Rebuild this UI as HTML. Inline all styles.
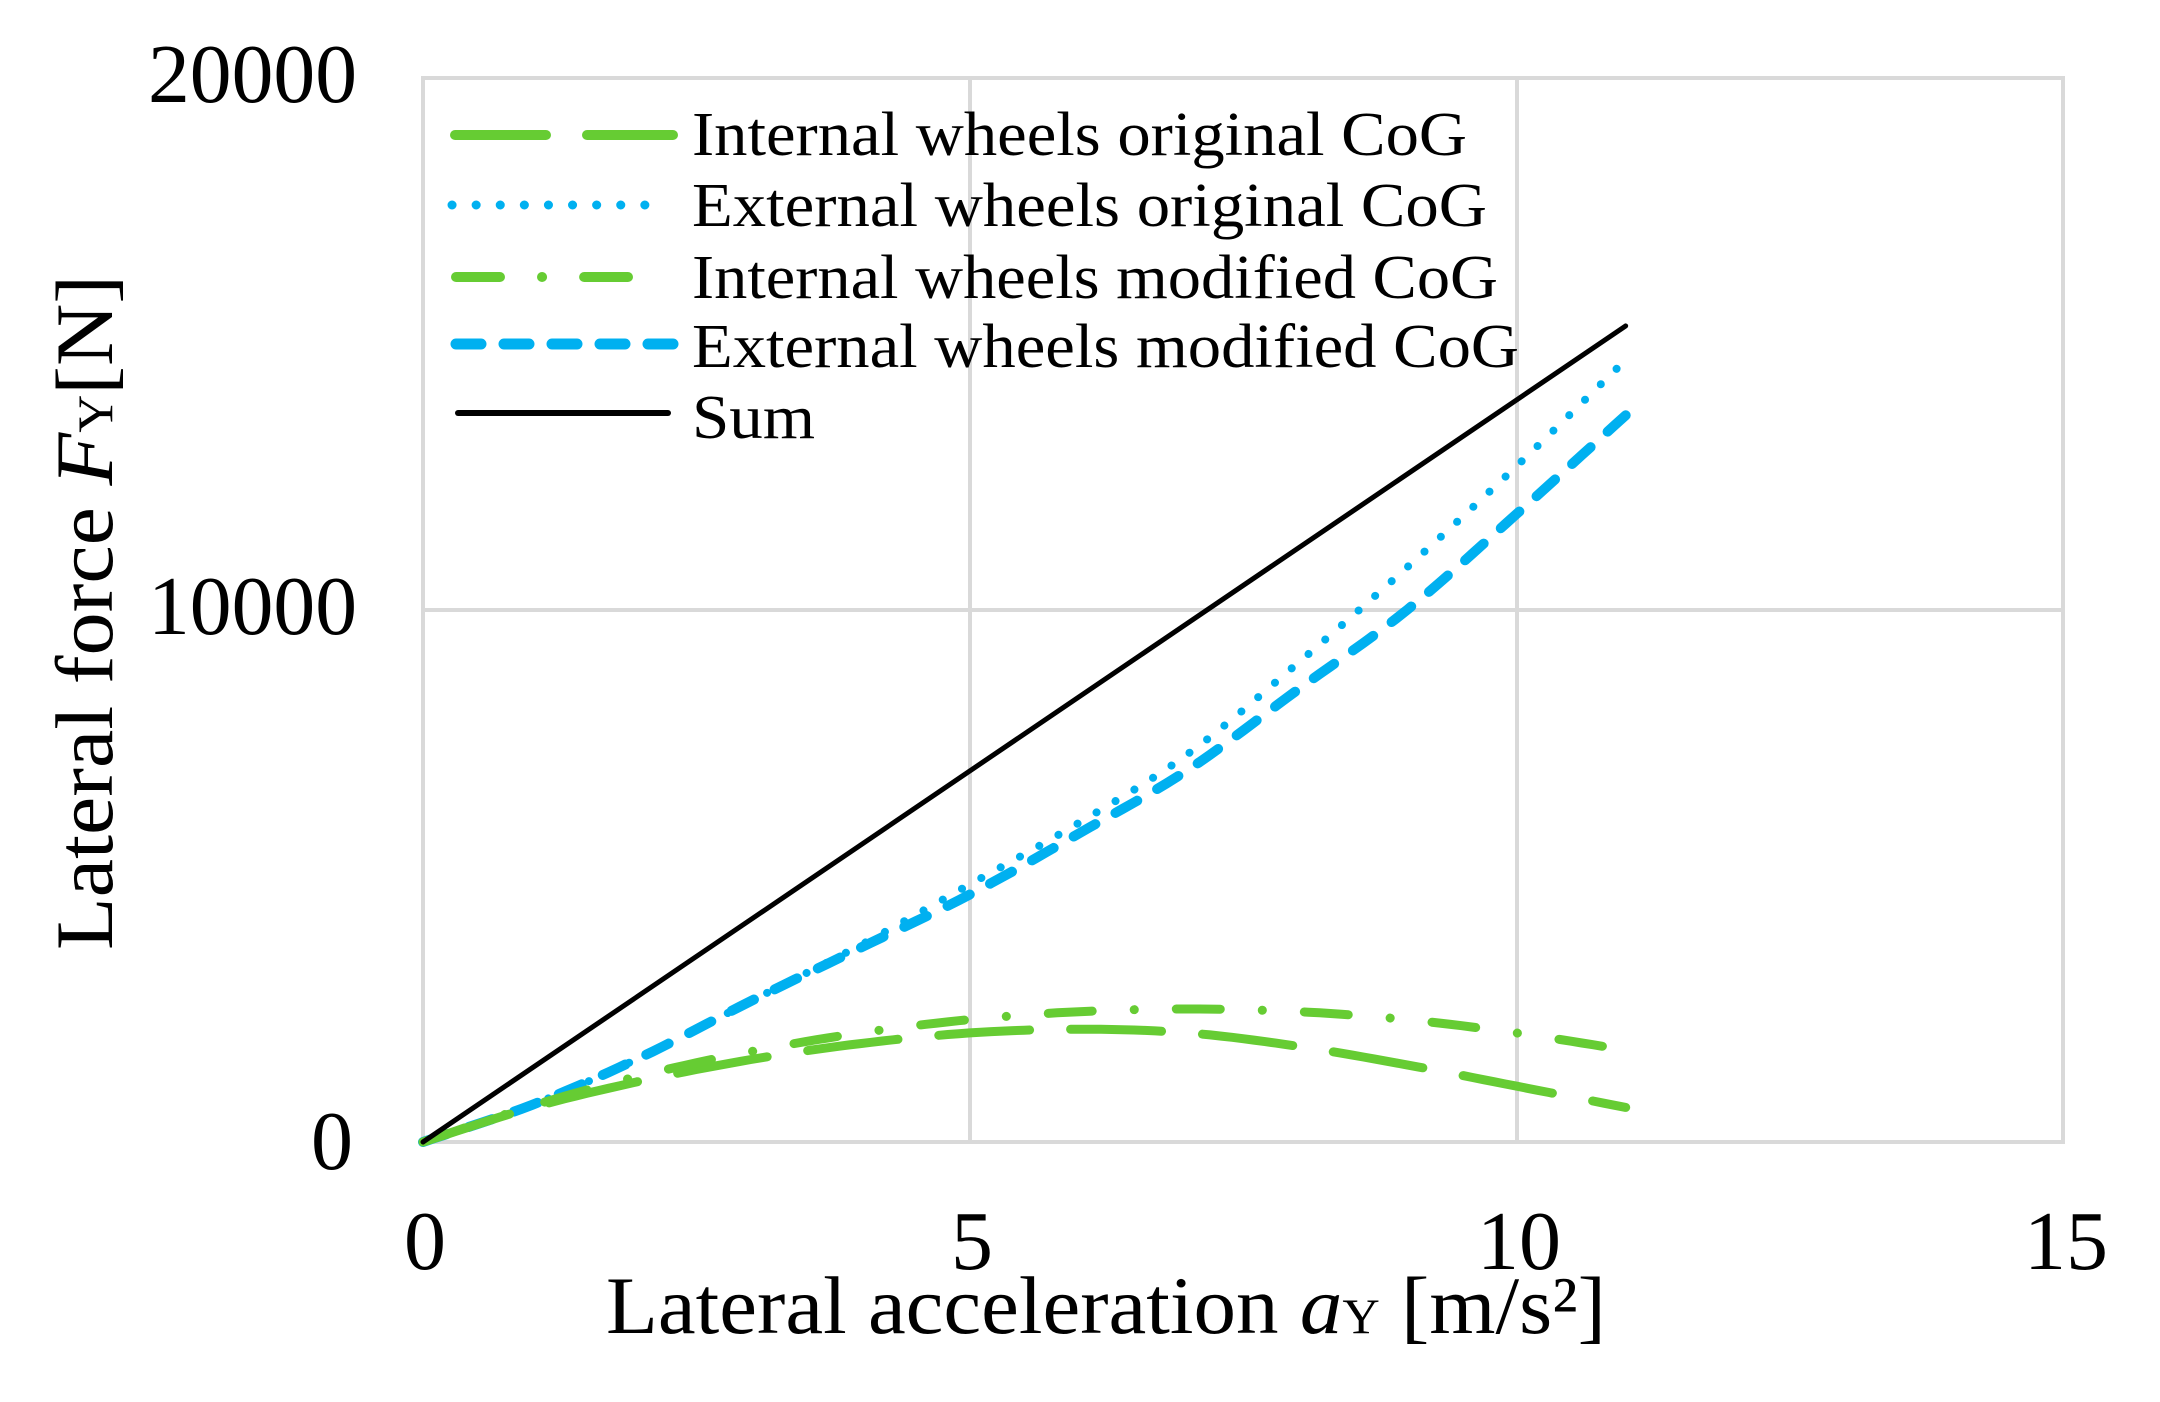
<!DOCTYPE html>
<html><head><meta charset="utf-8"><style>
html,body{margin:0;padding:0;background:#fff;}
svg{display:block;}
text{font-family:"Liberation Serif",serif;fill:#000;}
</style></head><body>
<svg id="s" width="2160" height="1402" viewBox="0 0 2160 1402" xmlns="http://www.w3.org/2000/svg">
<rect width="2160" height="1402" fill="#fff"/>
<g stroke="#d9d9d9" stroke-width="4" fill="none">
<line x1="970" y1="78" x2="970" y2="1142"/>
<line x1="1517" y1="78" x2="1517" y2="1142"/>
<line x1="423" y1="610" x2="2063" y2="610"/>
<rect x="423" y="78" width="1640" height="1064"/>
</g>
<g id="series" fill="none" stroke-linecap="round" stroke-linejoin="round"></g>
<g font-size="84" text-anchor="end">
<text x="357" y="102" textLength="209" lengthAdjust="spacingAndGlyphs">20000</text>
<text x="357" y="634" textLength="209" lengthAdjust="spacingAndGlyphs">10000</text>
<text x="353" y="1169">0</text>
</g>
<g font-size="84" text-anchor="middle">
<text x="425" y="1269">0</text>
<text x="972" y="1269">5</text>
<text x="1519" y="1269">10</text>
<text x="2066" y="1269">15</text>
</g>
<text x="606" y="1333" font-size="82" textLength="1000" lengthAdjust="spacingAndGlyphs">Lateral acceleration <tspan font-style="italic">a</tspan><tspan font-size="50">Y</tspan>  [m/s²]</text>
<text transform="translate(112,950) rotate(-90)" font-size="82" textLength="675" lengthAdjust="spacingAndGlyphs">Lateral  force  <tspan font-style="italic">F</tspan><tspan font-size="50">Y</tspan>[N]</text>
<g stroke-linecap="round" fill="none">
<line x1="455" y1="135" x2="673" y2="135" stroke="#66cc33" stroke-width="10" stroke-dasharray="91 41"/>
<line x1="452" y1="205" x2="660" y2="205" stroke="#00b0f0" stroke-width="9" stroke-dasharray="0.1 24"/>
<line x1="456" y1="277" x2="628" y2="277" stroke="#66cc33" stroke-width="10" stroke-dasharray="44 42 0.1 42"/>
<line x1="456" y1="344" x2="673" y2="344" stroke="#00b0f0" stroke-width="11" stroke-dasharray="25 23"/>
<line x1="458" y1="413" x2="668" y2="413" stroke="#000" stroke-width="6"/>
</g>
<g font-size="62">
<text x="692" y="155" textLength="775" lengthAdjust="spacingAndGlyphs">Internal wheels original CoG</text>
<text x="692" y="226" textLength="795" lengthAdjust="spacingAndGlyphs">External wheels original CoG</text>
<text x="692" y="298" textLength="806" lengthAdjust="spacingAndGlyphs">Internal wheels modified CoG</text>
<text x="692" y="367" textLength="827" lengthAdjust="spacingAndGlyphs">External wheels modified CoG</text>
<text x="692" y="438" textLength="123" lengthAdjust="spacingAndGlyphs">Sum</text>
</g>
</svg>
<script>
var X=function(x){return 423+x*(1640/15);},Y=function(y){return 1142-y*(1064/20000);};
var S=[
{p:[0,700,1600,2650,3650,4650,5800,7000,8500,10000,11800,13660],c:"#00b0f0",w:10,d:"25 23"},
{p:[0,700,1600,2650,3700,4840,6000,7300,9000,10800,12700,14700],c:"#00b0f0",w:8,d:"0.1 22"},
{p:[0,650,1150,1550,1850,2050,2120,2050,1800,1450,1050,650],c:"#66cc33",w:9,d:"91 41"},
{p:[0,680,1250,1700,2050,2300,2450,2500,2450,2300,2050,1730],c:"#66cc33",w:9,d:"44 42 0.1 42"}];
var g=document.getElementById("series"),ns="http://www.w3.org/2000/svg";
S.forEach(function(s){
 var pts=[];for(var i=0;i<=110;i++){var t=i/10,k=Math.min(10,Math.floor(t)),f=t-k;
  var p1=s.p[k],p2=s.p[Math.min(11,k+1)];
  var p0=k>0?s.p[k-1]:2*p1-p2,p3=k+2<=11?s.p[k+2]:2*p2-p1;
  var v=0.5*((2*p1)+(-p0+p2)*f+(2*p0-5*p1+4*p2-p3)*f*f+(-p0+3*p1-3*p2+p3)*f*f*f);
  pts.push(X(t).toFixed(1)+","+Y(v).toFixed(1));}
 var e=document.createElementNS(ns,"polyline");e.setAttribute("points",pts.join(" "));
 e.setAttribute("stroke",s.c);e.setAttribute("stroke-width",s.w);if(s.d)e.setAttribute("stroke-dasharray",s.d);
 g.appendChild(e);});
var l=document.createElementNS(ns,"line");
l.setAttribute("x1",X(0));l.setAttribute("y1",Y(0));l.setAttribute("x2",X(11));l.setAttribute("y2",Y(15340));
l.setAttribute("stroke","#000");l.setAttribute("stroke-width",5);g.appendChild(l);
</script>
</body></html>
